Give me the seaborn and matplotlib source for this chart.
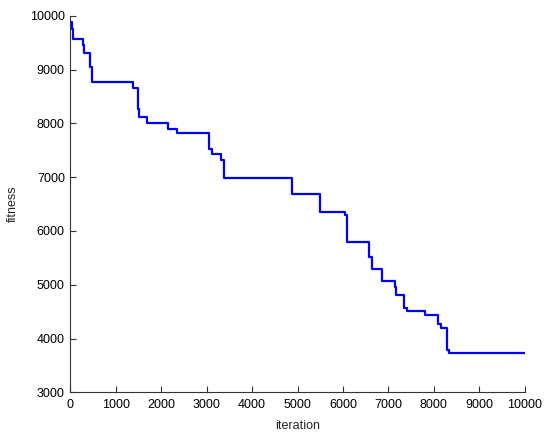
import matplotlib
matplotlib.use("Agg")
import matplotlib.pyplot as plt
import seaborn as sns
import pandas as pd

iterations = [0, 30, 50, 270, 290, 434, 485, 1374, 1477, 1506, 1697, 2159, 2343,
              3048, 3121, 3313, 3385, 4880, 5485, 6035, 6088, 6564, 6639, 6862,
              7137, 7174, 7335, 7420, 7808, 8084, 8165, 8290, 8341, 10000]
fitness = [9880, 9760, 9570, 9450, 9300, 9050, 8760, 8655, 8270, 8110, 8005, 7895, 7820,
           7520, 7430, 7315, 6980, 6680, 6345, 6300, 5795, 5510, 5300, 5070,
           4965, 4810, 4560, 4520, 4440, 4280, 4190, 3780, 3725, 3725]

x_ticks = [0, 1000, 2000, 3000, 4000, 5000, 6000, 7000, 8000, 9000, 10000]
y_ticks = [3000, 4000, 5000, 6000, 7000, 8000, 9000, 10000]

df = pd.DataFrame({"iteration": iterations, "fitness": fitness})

sns.set_style("white")
plt.rcParams['font.family'] = ['Liberation Sans', 'DejaVu Sans']

fig = plt.figure(figsize=(5.5, 4.36), dpi=100)
ax = fig.add_axes([0.128, 0.100, 0.826, 0.864])

sns.lineplot(data=df, x="iteration", y="fitness", ax=ax, color="#0000ff",
             linewidth=1.6, drawstyle="steps-post", estimator=None, sort=False)

ax.set_xlim(0, 10000)
ax.set_ylim(3000, 10000)
ax.set_xticks(x_ticks)
ax.set_yticks(y_ticks)
ax.set_xticklabels([str(v) for v in x_ticks])
ax.set_yticklabels([str(v) for v in y_ticks])
ax.set_xlabel("iteration", fontsize=9, labelpad=6)
ax.set_ylabel("fitness", fontsize=9, labelpad=8)
ax.tick_params(axis="x", direction="in", length=4, width=0.8, labelsize=9,
               colors="#333333", pad=5, bottom=True)
ax.tick_params(axis="y", direction="in", length=4, width=0.8, labelsize=9,
               colors="#333333", pad=4, left=True)
for lbl in ax.get_xticklabels() + ax.get_yticklabels():
    lbl.set_color("black")
for s in ["top", "right"]:
    ax.spines[s].set_visible(False)
for s in ["left", "bottom"]:
    ax.spines[s].set_color("#333333")
    ax.spines[s].set_linewidth(0.8)

fig.savefig("out.png", dpi=100)
